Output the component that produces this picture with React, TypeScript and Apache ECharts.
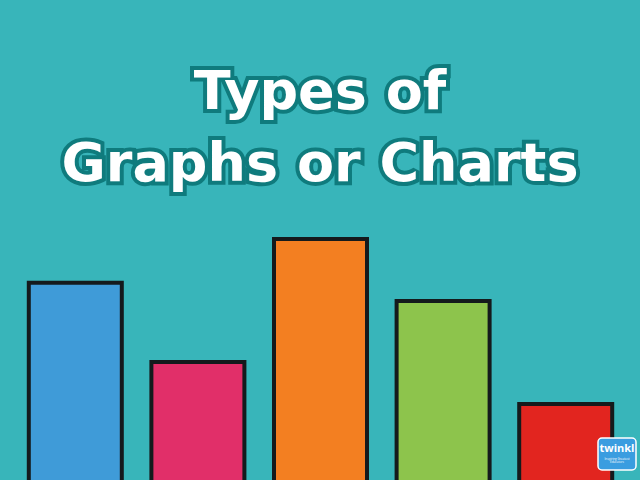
import React, { useEffect, useRef } from "react";
import * as echarts from "echarts";

const categories = ["A", "B", "C", "D", "E"];
const values = [8.05, 5.0, 9.73, 7.35, 3.38];
const barColors = ["#3f9bd8", "#e12f69", "#f37f21", "#8dc44c", "#e2251f"];
const titleLines = ["Types of", "Graphs or Charts"];

export default function App() {
  const ref = useRef<HTMLDivElement>(null);
  useEffect(() => {
    const chart = echarts.init(ref.current!, undefined, { renderer: "svg" });
    const titleStyle = {
      font: "bold 54px 'DejaVu Sans'",
      fill: "#ffffff",
      stroke: "#0f7b7d",
      lineWidth: 8,
      lineJoin: "round",
      align: "center",
      verticalAlign: "middle",
    };
    chart.setOption({
      animation: false,
      backgroundColor: "#38b5ba",
      grid: { left: 14, right: 13, top: 230, bottom: 10 },
      xAxis: {
        type: "category",
        data: categories,
        show: false,
      },
      yAxis: { type: "value", min: 0, max: 10, show: false },
      series: [
        {
          type: "bar",
          barWidth: 97,
          data: values.map((v, i) => ({
            value: v,
            itemStyle: { color: barColors[i] },
          })),
          itemStyle: { borderColor: "#141a1c", borderWidth: 4 },
        },
      ],
      graphic: [
        {
          type: "text",
          x: 320,
          y: 90,
          style: { text: titleLines[0], ...titleStyle },
        },
        {
          type: "text",
          x: 320,
          y: 162,
          style: { text: titleLines[1], ...titleStyle },
        },
        {
          type: "group",
          x: 598,
          y: 438,
          z: 100,
          children: [
            {
              type: "rect",
              z: 100,
              shape: { x: 0, y: 0, width: 38, height: 32, r: 4 },
              style: { fill: "#3a9de0", stroke: "#ffffff", lineWidth: 1.5 },
            },
            {
              type: "text",
              z: 101,
              x: 19,
              y: 4,
              style: {
                text: "twinkl",
                font: "bold 11px 'Open Sans'",
                fill: "#ffffff",
                align: "center",
              },
            },
            {
              type: "text",
              z: 101,
              x: 19,
              y: 19,
              style: {
                text: "Inspiring Greatest\nEducators",
                font: "3px 'Open Sans'",
                fill: "#ffffff",
                align: "center",
              },
            },
          ],
        },
      ],
    });
    return () => chart.dispose();
  }, []);
  return (
    <div
      style={{
        position: "fixed",
        left: 0,
        top: 0,
        width: 640,
        height: 480,
        overflow: "hidden",
      }}
    >
      <div ref={ref} style={{ width: 640, height: 500 }} />
    </div>
  );
}
